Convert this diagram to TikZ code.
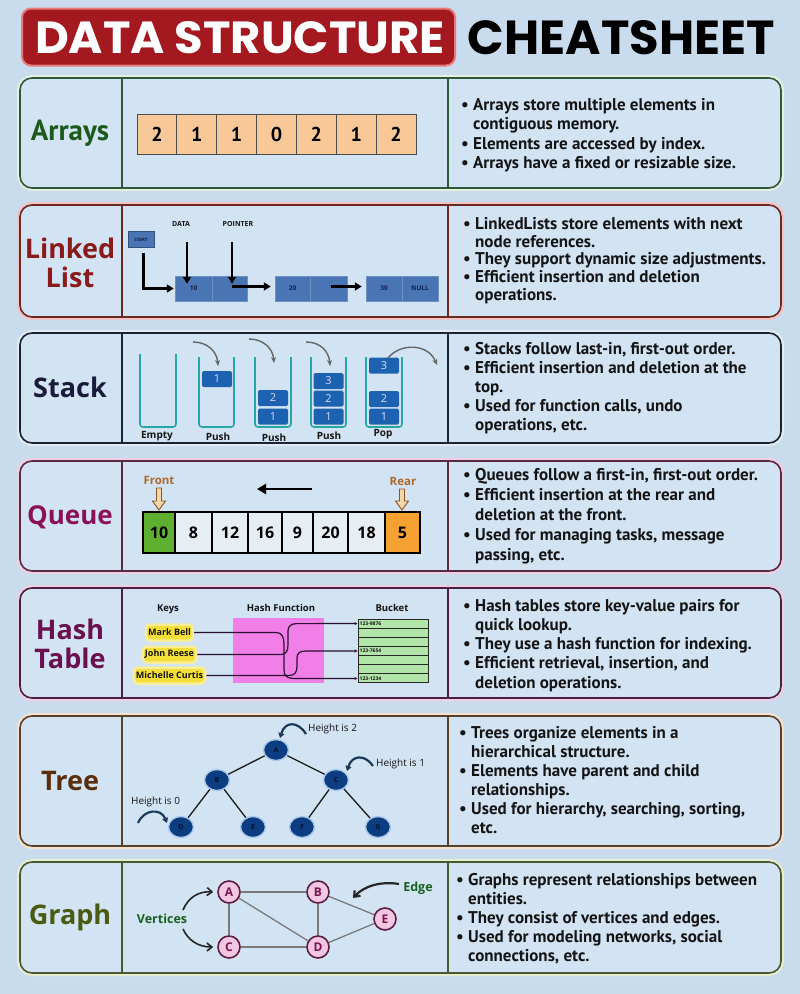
\documentclass[tikz,border=0pt]{standalone}
\usepackage{fontspec}
\setmainfont{Open Sans}
\newfontfamily\ptsans{PT Sans}
\newfontfamily\popfont{Poppins}
\usetikzlibrary{arrows.meta,calc,shapes.geometric}

\definecolor{pagebg}{HTML}{C8DCEE}
\definecolor{panelfill}{HTML}{D2E3F3}
\definecolor{titlered}{HTML}{A4191F}
\definecolor{titleglow}{HTML}{E87A7A}
\definecolor{bArr}{HTML}{2F5A3A}\definecolor{gArr}{HTML}{E6F0DE}
\definecolor{bLL}{HTML}{6A2A22}\definecolor{gLL}{HTML}{F2C4C4}
\definecolor{bStk}{HTML}{1A2233}\definecolor{gStk}{HTML}{E2EAF2}
\definecolor{bQue}{HTML}{5A2A40}\definecolor{gQue}{HTML}{EFCFE6}
\definecolor{bHash}{HTML}{4A2040}\definecolor{gHash}{HTML}{EFCFE6}
\definecolor{bTree}{HTML}{5A4028}\definecolor{gTree}{HTML}{F3E3CF}
\definecolor{bGr}{HTML}{4A5A30}\definecolor{gGr}{HTML}{E6EECE}
\definecolor{cArr}{HTML}{1C5A1C}
\definecolor{cLL}{HTML}{8B1A1A}
\definecolor{cStk}{HTML}{1A1A3A}
\definecolor{cQue}{HTML}{8A1058}
\definecolor{cHash}{HTML}{6A1050}
\definecolor{cTree}{HTML}{5A2E0A}
\definecolor{cGr}{HTML}{4A5A10}
\definecolor{peach}{HTML}{F8C898}
\definecolor{llblue}{HTML}{4A75B5}
\definecolor{llnavy}{HTML}{0E1E4A}
\definecolor{stkteal}{HTML}{27A6A6}
\definecolor{stkblue}{HTML}{1D62B0}
\definecolor{qgreen}{HTML}{5FB030}
\definecolor{qorange}{HTML}{F5A233}
\definecolor{qwhite}{HTML}{E6EDF3}
\definecolor{qbrown}{HTML}{B0682A}
\definecolor{qarrfill}{HTML}{F2D8A8}
\definecolor{keyyellow}{HTML}{F4DF38}
\definecolor{keyglow}{HTML}{F8EE98}
\definecolor{hashpink}{HTML}{F27EE8}
\definecolor{bucketgreen}{HTML}{B2E6A8}
\definecolor{hashline}{HTML}{2A1030}
\definecolor{treenavy}{HTML}{0C3D80}
\definecolor{treeglow}{HTML}{A8C8EC}
\definecolor{treetext}{HTML}{03102C}
\definecolor{treearr}{HTML}{1A3A5A}
\definecolor{grpink}{HTML}{F3C6E2}
\definecolor{grborder}{HTML}{5C1E42}
\definecolor{grtext}{HTML}{7C1452}
\definecolor{gredge}{HTML}{7A7A7A}
\definecolor{grgreen}{HTML}{17601E}
\definecolor{darktext}{HTML}{141414}

\newcommand\bu{\makebox[12pt][l]{\textbullet}}
\newcommand\bn{\hspace*{12pt}}
\newcommand\dspanel[3]{%
  \draw[#3, line width=1.6pt, fill=panelfill, rounded corners=12pt] (20,#1) rectangle (781,#2);
  \draw[#3, line width=1.6pt] (122,#1) -- (122,#2);
  \draw[#3, line width=1.6pt] (448,#1) -- (448,#2);
}
\newcommand\dsglow[3]{%
  \draw[#3, line width=6pt, rounded corners=12pt] (20,#1) rectangle (781,#2);
}

\tikzset{
  lbl/.style={font=\bfseries\fontsize{27}{29}\selectfont, align=center, inner sep=0pt},
  bul/.style={anchor=north west, align=left, inner sep=0pt, text=darktext,
              font=\ptsans\bfseries\fontsize{17}{19}\selectfont},
  arrcell/.style={draw=black!70, line width=0.8pt, fill=peach, minimum width=39.86pt,
              minimum height=40pt, inner sep=0pt, font=\ptsans\bfseries\fontsize{20}{20}\selectfont},
  llcell/.style={fill=llblue, draw=llblue!80!white, line width=0.5pt, minimum height=25pt,
              inner sep=0pt, text=llnavy, font=\bfseries\fontsize{6.5}{7}\selectfont},
  lltxt/.style={font=\bfseries\fontsize{7}{8}\selectfont, text=darktext, inner sep=0pt},
  llarr/.style={line width=2.8pt, -{Triangle[length=7pt,width=8pt]}},
  stk/.style={stkteal, line width=1.6pt, rounded corners=3pt},
  sblk/.style={fill=stkblue, rounded corners=1.5pt, minimum width=30pt, minimum height=16pt,
              inner sep=0pt, text=white!85!blue, font=\fontsize{11}{11}\selectfont},
  stxt/.style={font=\bfseries\fontsize{10}{10}\selectfont, text=darktext, inner sep=0pt},
  garr/.style={line width=1.4pt, black!60, -{Stealth[length=6pt,width=5pt]}},
  qcell/.style={draw=black, line width=2.6pt, minimum height=41pt, inner sep=0pt,
              font=\bfseries\fontsize{16}{16}\selectfont},
  qlab/.style={font=\bfseries\fontsize{11.5}{12}\selectfont, text=qbrown, inner sep=0pt},
  hlab/.style={font=\bfseries\fontsize{9.5}{10}\selectfont, text=darktext, inner sep=0pt},
  keybox/.style={fill=keyyellow, draw=keyglow, line width=2.5pt, rounded corners=4pt,
              minimum height=16pt, inner sep=2pt, font=\bfseries\fontsize{9}{9}\selectfont, text=darktext},
  bucket/.style={fill=bucketgreen, draw=black!85, line width=1pt, minimum width=70pt,
              minimum height=9.14pt, inner sep=0pt},
  bktxt/.style={font=\bfseries\fontsize{5}{5}\selectfont, anchor=west, inner sep=0pt, text=darktext},
  hline/.style={hashline, line width=1.2pt, -{Stealth[length=3pt,width=3pt]}},
  tnode/.style={ellipse, fill=treenavy, draw=treeglow, line width=1.4pt, minimum width=25pt,
              minimum height=21pt, inner sep=0pt, text=treetext, font=\bfseries\fontsize{7}{7}\selectfont},
  tedge/.style={line width=1.3pt, black!90},
  htxt/.style={font=\fontsize{10}{10}\selectfont, text=darktext, anchor=west, inner sep=0pt},
  harr/.style={treearr, line width=2.2pt, -{Triangle[length=5pt,width=6pt]}},
  gnode/.style={circle, fill=grpink, draw=grborder, line width=1.6pt, minimum size=22pt,
              inner sep=0pt, text=grtext, font=\bfseries\fontsize{12}{12}\selectfont},
  gedge/.style={gredge, line width=1.3pt},
  gtxt/.style={font=\bfseries\fontsize{12.5}{13}\selectfont, text=grgreen, inner sep=0pt},
  garrow/.style={black!85, line width=1.6pt, -{Straight Barb[length=5pt,width=8pt]}},
}

\begin{document}
\begin{tikzpicture}[x=1pt,y=-1pt]
\useasboundingbox (0,0) rectangle (800,994);
\fill[pagebg] (0,0) rectangle (800,994);

% ---------- title
\node[fill=titlered, draw=titleglow, line width=2pt, rounded corners=9pt,
      minimum width=433pt, minimum height=57pt] (titlebox) at (238.5,37) {};
\node[font=\popfont\bfseries\fontsize{40}{40}\selectfont, text=white, inner sep=0pt]
      (title1) at (240,38) {\resizebox{410pt}{32pt}{DATA STRUCTURE}};
\node[font=\popfont\bfseries\fontsize{40}{40}\selectfont, text=black, inner sep=0pt]
      (title2) at (621.5,38) {\resizebox{307pt}{34pt}{CHEATSHEET}};

% ---------- panels
\dsglow{78}{188}{gArr}\dspanel{78}{188}{bArr}
\dsglow{205}{317}{gLL}\dspanel{205}{317}{bLL}
\dsglow{333}{443}{gStk}\dspanel{333}{443}{bStk}
\dsglow{461}{571}{gQue}\dspanel{461}{571}{bQue}
\dsglow{588}{698}{gHash}\dspanel{588}{698}{bHash}
\dsglow{716}{846}{gTree}\dspanel{716}{846}{bTree}
\dsglow{862}{973}{gGr}\dspanel{862}{973}{bGr}

% ---------- labels
\node[lbl, text=cArr, font=\ptsans\bfseries\fontsize{29}{30}\selectfont] (lArr) at (70,133) {Arrays};
\node[lbl, text=cLL] (lLL) at (70,263) {Linked\\List};
\node[lbl, text=cStk] (lStk) at (70,387) {Stack};
\node[lbl, text=cQue, font=\bfseries\fontsize{26}{28}\selectfont] (lQue) at (70,517) {Queue};
\node[lbl, text=cHash] (lHash) at (70,644) {Hash\\Table};
\node[lbl, text=cTree] (lTree) at (70,781) {Tree};
\node[lbl, text=cGr] (lGr) at (70,917) {Graph};

% ---------- bullet texts
\node[bul, font=\ptsans\bfseries\fontsize{17}{19.5}\selectfont] (tArr) at (461,98)
 {\bu Arrays store multiple elements in\\\bn contiguous memory.\\\bu Elements are accessed by index.\\\bu Arrays have a fixed or resizable size.};
\node[bul, font=\ptsans\bfseries\fontsize{17}{17.8}\selectfont] (tLL) at (463,217)
 {\bu LinkedLists store elements with next\\\bn node references.\\\bu They support dynamic size adjustments.\\\bu Efficient insertion and deletion\\\bn operations.};
\node[bul] (tStk) at (463,342)
 {\bu Stacks follow last-in, first-out order.\\\bu Efficient insertion and deletion at the\\\bn top.\\\bu Used for function calls, undo\\\bn operations, etc.};
\node[bul, font=\ptsans\bfseries\fontsize{17}{20}\selectfont] (tQue) at (463,468)
 {\bu Queues follow a first-in, first-out order.\\\bu Efficient insertion at the rear and\\\bn deletion at the front.\\\bu Used for managing tasks, message\\\bn passing, etc.};
\node[bul, font=\ptsans\bfseries\fontsize{17}{19.2}\selectfont] (tHash) at (463,599)
 {\bu Hash tables store key-value pairs for\\\bn quick lookup.\\\bu They use a hash function for indexing.\\\bu Efficient retrieval, insertion, and\\\bn deletion operations.};
\node[bul] (tTree) at (459,726)
 {\bu Trees organize elements in a\\\bn hierarchical structure.\\\bu Elements have parent and child\\\bn relationships.\\\bu Used for hierarchy, searching, sorting,\\\bn etc.};
\node[bul] (tGr) at (456,873)
 {\bu Graphs represent relationships between\\\bn entities.\\\bu They consist of vertices and edges.\\\bu Used for modeling networks, social\\\bn connections, etc.};

% ---------- arrays
\foreach \v [count=\i from 0] in {2,1,1,0,2,1,2}
  \node[arrcell] (ac\i) at ({156.93+\i*39.86},134) {\v};

% ---------- linked list
\node[fill=llblue, draw=llblue!70!black, line width=0.4pt, minimum width=26pt, minimum height=16pt,
      inner sep=0pt, text=llnavy, font=\bfseries\fontsize{4.5}{5}\selectfont] (start) at (141,239.5) {START};
\node[lltxt] (data) at (181,224) {DATA};
\node[lltxt] (pointer) at (238,224) {POINTER};
\node[llcell, minimum width=37pt] (n1a) at (193.5,288.5) {10};
\node[llcell, minimum width=35pt] (n1b) at (229.5,288.5) {};
\node[llcell, minimum width=35pt] (n2a) at (292.5,288.5) {20};
\node[llcell, minimum width=37pt] (n2b) at (328.5,288.5) {};
\node[llcell, minimum width=36pt] (n3a) at (384,288.5) {30};
\node[llcell, minimum width=36pt] (n3b) at (420,288.5) {NULL};
\coordinate (s0) at (143,253);
\coordinate (d0) at (187,242);
\coordinate (p0) at (232,242);
\coordinate (q1) at (232,286.5);
\coordinate (q2) at (331,286.5);
\draw[llarr, line width=3pt] (s0) |- ([xshift=-1pt]n1a.west);
\draw[llarr] (d0) -- ([yshift=-8pt]d0 |- n1a.north);
\draw[llarr] (p0) -- ([yshift=-8pt]p0 |- n1a.north);
\draw[llarr] (q1) -- ([xshift=-4pt]n2a.west |- q1);
\draw[llarr] (q2) -- ([xshift=-4pt]n3a.west |- q2);

% ---------- stack
\draw[stk] (140,354) |- (176,427) -- (176,354);
\draw[stk] (199,357) |- (234,427) -- (234,357);
\draw[stk] (255,357) |- (291,427) -- (291,357);
\draw[stk] (311,357) |- (346,427) -- (346,357);
\draw[stk] (366,357) |- (402,427) -- (402,357);
\node[sblk] (s2a) at (217,379) {1};
\node[sblk] (s3b) at (273,398) {2};
\node[sblk] (s3a) at (273,416.5) {1};
\node[sblk] (s4c) at (328.5,381) {3};
\node[sblk] (s4b) at (328.5,398.5) {2};
\node[sblk] (s4a) at (328.5,416.5) {1};
\node[sblk] (s5c) at (384,365.5) {3};
\node[sblk] (s5b) at (384,399) {2};
\node[sblk] (s5a) at (384,416.5) {1};
\node[stxt] (e1) at (157,436) {Empty};
\node[stxt] (e2) at (218,437) {Push};
\node[stxt] (e3) at (274,438) {Push};
\node[stxt] (e4) at (329,436) {Push};
\node[stxt] (e5) at (383,434) {Pop};
\coordinate (g1a) at (193,342); \coordinate (g1b) at (218,366);
\coordinate (g2a) at (249,339); \coordinate (g2b) at (274,363);
\coordinate (g3a) at (306,342); \coordinate (g3b) at (330,366);
\coordinate (g4a) at (388,358); \coordinate (g4b) at (437,365);
\draw[garr] (g1a) .. controls (208,342) and (217,352) .. (g1b);
\draw[garr] (g2a) .. controls (264,339) and (273,349) .. (g2b);
\draw[garr] (g3a) .. controls (321,342) and (329,352) .. (g3b);
\draw[garr] (g4a) .. controls (400,343) and (428,343) .. (g4b);

% ---------- queue
\node[qlab] (front) at (159,480) {Front};
\node[qlab] (rear) at (403,481) {Rear};
\draw[qbrown!80!black, fill=qarrfill, line width=0.9pt]
  (156.5,488) -- (161.5,488) -- (161.5,501) -- (165.5,501) -- (159,510) -- (152.5,501) -- (156.5,501) -- cycle;
\draw[qbrown!80!black, fill=qarrfill, line width=0.9pt]
  (399.5,489) -- (404.5,489) -- (404.5,501) -- (408.5,501) -- (402,510) -- (395.5,501) -- (399.5,501) -- cycle;
\coordinate (qa0) at (312,489);
\coordinate (qa1) at (257,489);
\draw[line width=2.6pt, -{Triangle[length=9pt,width=10pt]}] (qa0) -- (qa1);
\node[qcell, fill=qgreen, minimum width=32pt] (c1) at (159,532.5) {10};
\node[qcell, fill=qwhite, minimum width=37pt] (c2) at (193.5,532.5) {8};
\node[qcell, fill=qwhite, minimum width=36pt] (c3) at (230,532.5) {12};
\node[qcell, fill=qwhite, minimum width=34pt] (c4) at (265,532.5) {16};
\node[qcell, fill=qwhite, minimum width=31pt] (c5) at (297.5,532.5) {9};
\node[qcell, fill=qwhite, minimum width=35pt] (c6) at (330.5,532.5) {20};
\node[qcell, fill=qwhite, minimum width=37pt] (c7) at (366.5,532.5) {18};
\node[qcell, fill=qorange, minimum width=35pt] (c8) at (402.5,532.5) {5};

% ---------- hash table
\node[hlab] (keys) at (168,609) {Keys};
\node[hlab] (hfl) at (281,608) {Hash Function};
\node[hlab] (bkl) at (392,608) {Bucket};
\node[fill=hashpink, minimum width=91pt, minimum height=65pt, inner sep=0pt] (hf) at (278.5,650.5) {};
\foreach \r in {1,...,7}
  \node[bucket] (b\r) at (393,{619+(\r-0.5)*9.14}) {};
\node[bktxt] (bt1) at ([xshift=2pt]b1.west) {123-9876};
\node[bktxt] (bt4) at ([xshift=2pt]b4.west) {123-7654};
\node[bktxt] (bt7) at ([xshift=2pt]b7.west) {123-1234};
\node[keybox] (k1) at (169.5,632.5) {Mark Bell};
\node[keybox] (k2) at (169.5,654.5) {John Reese};
\node[keybox] (k3) at (169.5,675.5) {Michelle Curtis};
\draw[hline] (k1.east) -- (276,632.5) .. controls (282,632.5) and (284,637) .. (284,644)
   -- (284,670) .. controls (284,676) and (287,678.4) .. (294,678.4) -- (b7.west);
\draw[hline] (k2.east) -- (281,654.5) .. controls (286,654.5) and (288,651) .. (288,645)
   -- (288,631) .. controls (288,626) and (291,623.6) .. (297,623.6) -- (b1.west);
\draw[hline] (k3.east) -- (289,675.5) .. controls (295,675.5) and (297,672) .. (297,666)
   -- (297,658) .. controls (297,653) and (300,651) .. (306,651) -- (b4.west);

% ---------- tree
\node[tnode] (A) at (276,750) {A};
\node[tnode] (B) at (217,780) {B};
\node[tnode] (C) at (336,780) {C};
\node[tnode] (D) at (181,827) {D};
\node[tnode] (E) at (253,827) {E};
\node[tnode] (F) at (302,827) {F};
\node[tnode] (G) at (378,827) {G};
\draw[tedge] (A) -- (B);
\draw[tedge] (A) -- (C);
\draw[tedge] (B) -- (D);
\draw[tedge] (B) -- (E);
\draw[tedge] (C) -- (F);
\draw[tedge] (C) -- (G);
\node[htxt] (h2) at (308,729) {Height is 2};
\node[htxt] (h1) at (376,764) {Height is 1};
\node[htxt] (h0) at (131,802) {Height is 0};
\coordinate (h2a) at (306,734); \coordinate (h2b) at (280,738);
\coordinate (h1a) at (373,766); \coordinate (h1b) at (347,771);
\coordinate (h0a) at (138,823); \coordinate (h0b) at (167,823);
\draw[harr] (h2a) .. controls (298,721) and (285,721) .. (h2b);
\draw[harr] (h1a) .. controls (365,754) and (352,755) .. (h1b);
\draw[harr] (h0a) .. controls (144,809) and (161,808) .. (h0b);

% ---------- graph
\node[gnode] (gA) at (229,892) {A};
\node[gnode] (gB) at (318,892) {B};
\node[gnode] (gE) at (385,919) {E};
\node[gnode] (gC) at (229,947) {C};
\node[gnode] (gD) at (318,947) {D};
\draw[gedge] (gA) -- (gB);
\draw[gedge] (gA) -- (gC);
\draw[gedge] (gA) -- (gD);
\draw[gedge] (gB) -- (gD);
\draw[gedge] (gB) -- (gE);
\draw[gedge] (gC) -- (gD);
\draw[gedge] (gD) -- (gE);
\node[gtxt] (vert) at (162,919) {Vertices};
\node[gtxt] (edge) at (418,888) {Edge};
\coordinate (v1) at (183,910);
\coordinate (v2) at (183,929);
\draw[garrow] (v1) .. controls (188,898) and (198,891) .. ([xshift=-4pt]gA.west);
\draw[garrow] (v2) .. controls (188,940) and (198,947) .. ([xshift=-4pt]gC.west);
\coordinate (ed0) at (399,884);
\coordinate (ed1) at (353,898);
\draw[garrow, line width=2.2pt] (ed0) .. controls (381,881) and (364,886) .. (ed1);
\end{tikzpicture}
\end{document}
